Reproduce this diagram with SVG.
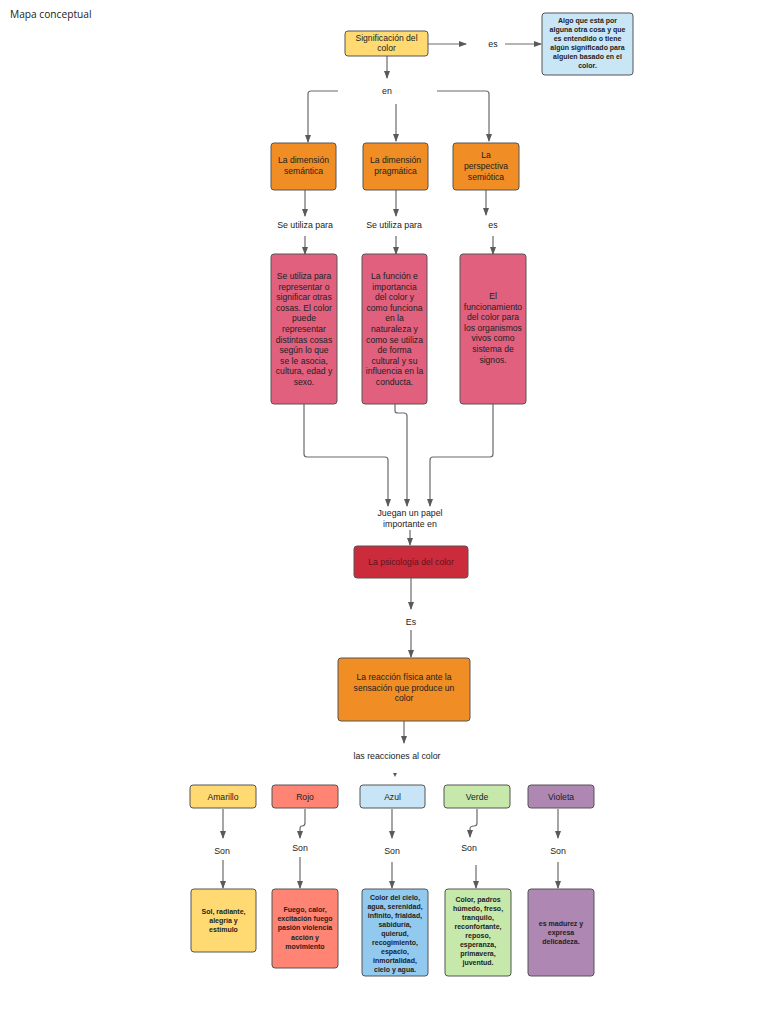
<svg xmlns="http://www.w3.org/2000/svg" width="768" height="1024" viewBox="0 0 768 1024">
<defs>
<marker id="ah" markerWidth="8" markerHeight="8" refX="7" refY="4" orient="auto" markerUnits="userSpaceOnUse">
<path d="M0,1 L8,4 L0,7 Z" fill="#5a5a5a"/>
</marker>
<style>
.box{stroke:#555;stroke-width:1;}
.c{fill:none;stroke:#6a6a6a;stroke-width:1.2;marker-end:url(#ah);}
.l{fill:none;stroke:#6a6a6a;stroke-width:1.2;}
text{font-family:"Liberation Sans",Arial,sans-serif;fill:#222;text-anchor:middle;}
.t{font-size:8.6px;}
.s{font-size:7px;font-weight:bold;}
.lab{font-size:8.8px;}
</style>
</defs>
<rect width="768" height="1024" fill="#fff"/>
<text x="10" y="18" style="text-anchor:start;font-size:10.2px;font-family:'Open Sans','Liberation Sans',sans-serif">Mapa conceptual</text>

<g id="connectors">
<path class="c" d="M428,44 H466"/>
<path class="c" d="M505,44 H541"/>
<path class="c" d="M387,56 V78"/>
<path class="c" d="M338,91 H311 Q308,91 308,94 V142"/>
<path class="c" d="M396,104 V141"/>
<path class="c" d="M437,91 H486 Q489,91 489,94 V141"/>
<path class="c" d="M305,190 V216"/>
<path class="c" d="M396,190 V216"/>
<path class="c" d="M486,190 V215"/>
<path class="c" d="M305,236 V254"/>
<path class="c" d="M396,236 V254"/>
<path class="c" d="M493,236 V254"/>
<path class="c" d="M304,404 V454 Q304,457 307,457 H385 Q388,457 388,460 V506"/>
<path class="c" d="M395,404 V411 Q395,413 398,413 H404 Q407,413 407,416 V506"/>
<path class="c" d="M493,404 V454 Q493,457 490,457 H433 Q430,457 430,460 V506"/>
<path class="c" d="M410,530 V545"/>
<path class="c" d="M411,578 V609"/>
<path class="c" d="M411,630 V657"/>
<path class="c" d="M404,721 V743"/>
<path d="M393,773 L397,773 L395,777 Z" fill="#5a5a5a"/>
<path class="c" d="M223,809 V838"/>
<path class="c" d="M305,809 V823 Q305,826 302,826 Q300,826 300,829 V838"/>
<path class="c" d="M392,809 V838"/>
<path class="c" d="M477,809 V823 Q477,826 474,826 Q470,826 470,829 V837"/>
<path class="c" d="M558,809 V838"/>
<path class="c" d="M223,860 V888"/>
<path class="c" d="M300,857 V888"/>
<path class="c" d="M392,862 V888"/>
<path class="c" d="M476,865 V888"/>
<path class="c" d="M558,862 V888"/>
</g>

<g id="labels">
<text class="lab" x="493" y="47">es</text>
<text class="lab" x="387" y="94">en</text>
<text class="lab" x="305" y="228">Se utiliza para</text>
<text class="lab" x="394" y="228">Se utiliza para</text>
<text class="lab" x="493" y="228">es</text>
<text class="lab" x="410" y="516">Juegan un papel</text>
<text class="lab" x="410" y="527">importante en</text>
<text class="lab" x="411" y="625">Es</text>
<text class="lab" x="397" y="759">las reacciones al color</text>
<text class="lab" x="222" y="854">Son</text>
<text class="lab" x="300" y="851">Son</text>
<text class="lab" x="392" y="854">Son</text>
<text class="lab" x="469" y="851">Son</text>
<text class="lab" x="558" y="854">Son</text>
</g>

<g id="n-significacion">
<rect class="box" x="345" y="31" width="83" height="25" rx="3" fill="#FFDA72"/>
<text class="t" x="386.5" y="41">Significación del</text>
<text class="t" x="386.5" y="51">color</text>
</g>
<g id="n-definicion">
<rect class="box" x="542" y="13" width="91" height="62" rx="3" fill="#C9E6F7"/>
<text class="s" x="587.5" y="23">Algo que está por</text>
<text class="s" x="587.5" y="32">alguna otra cosa y que</text>
<text class="s" x="587.5" y="41">es entendido o tiene</text>
<text class="s" x="587.5" y="50">algún significado para</text>
<text class="s" x="587.5" y="59">alguien basado en el</text>
<text class="s" x="587.5" y="68">color.</text>
</g>

<g id="n-semantica">
<rect class="box" x="271" y="143" width="65" height="47" rx="3" fill="#F08D24"/>
<text class="t" x="303.5" y="163">La dimensión</text>
<text class="t" x="303.5" y="174">semántica</text>
</g>
<g id="n-pragmatica">
<rect class="box" x="363" y="143" width="65" height="47" rx="3" fill="#F08D24"/>
<text class="t" x="395.5" y="163">La dimensión</text>
<text class="t" x="395.5" y="174">pragmática</text>
</g>
<g id="n-semiotica">
<rect class="box" x="453" y="143" width="66" height="47" rx="3" fill="#F08D24"/>
<text class="t" x="486" y="158">La</text>
<text class="t" x="486" y="169">perspectiva</text>
<text class="t" x="486" y="180">semiótica</text>
</g>

<g id="n-uso1">
<rect class="box" x="271" y="254" width="66" height="150" rx="3" fill="#E0607E"/>
<text class="t" x="304" y="279">Se utiliza para</text>
<text class="t" x="304" y="289.6">representar o</text>
<text class="t" x="304" y="300.2">significar otras</text>
<text class="t" x="304" y="310.8">cosas. El color</text>
<text class="t" x="304" y="321.4">puede</text>
<text class="t" x="304" y="332">representar</text>
<text class="t" x="304" y="342.6">distintas cosas</text>
<text class="t" x="304" y="353.2">según lo que</text>
<text class="t" x="304" y="363.8">se le asocia,</text>
<text class="t" x="304" y="374.4">cultura, edad y</text>
<text class="t" x="304" y="385">sexo.</text>
</g>
<g id="n-uso2">
<rect class="box" x="362" y="254" width="65" height="150" rx="3" fill="#E0607E"/>
<text class="t" x="394.5" y="279">La función e</text>
<text class="t" x="394.5" y="289.6">importancia</text>
<text class="t" x="394.5" y="300.2">del color y</text>
<text class="t" x="394.5" y="310.8">como funciona</text>
<text class="t" x="394.5" y="321.4">en la</text>
<text class="t" x="394.5" y="332">naturaleza y</text>
<text class="t" x="394.5" y="342.6">como se utiliza</text>
<text class="t" x="394.5" y="353.2">de forma</text>
<text class="t" x="394.5" y="363.8">cultural y su</text>
<text class="t" x="394.5" y="374.4">influencia en la</text>
<text class="t" x="394.5" y="385">conducta.</text>
</g>
<g id="n-uso3">
<rect class="box" x="460" y="254" width="66" height="150" rx="3" fill="#E0607E"/>
<text class="t" x="493" y="299">El</text>
<text class="t" x="493" y="309.6">funcionamiento</text>
<text class="t" x="493" y="320.2">del color para</text>
<text class="t" x="493" y="330.8">los organismos</text>
<text class="t" x="493" y="341.4">vivos como</text>
<text class="t" x="493" y="352">sistema de</text>
<text class="t" x="493" y="362.6">signos.</text>
</g>

<g id="n-psicologia">
<rect class="box" x="354" y="546" width="114" height="32" rx="3" fill="#CC2B3C"/>
<text class="t" x="411" y="565" style="fill:#5e1420">La psicología del color</text>
</g>
<g id="n-reaccion">
<rect class="box" x="338" y="658" width="132" height="63" rx="3" fill="#F08D24"/>
<text class="t" x="404" y="680">La reacción física ante la</text>
<text class="t" x="404" y="690.5">sensación que produce un</text>
<text class="t" x="404" y="701">color</text>
</g>

<g id="n-amarillo">
<rect class="box" x="190" y="785" width="66" height="23" rx="3" fill="#FFDA72"/>
<text class="t" x="223" y="800">Amarillo</text>
</g>
<g id="n-rojo">
<rect class="box" x="272" y="785" width="66" height="23" rx="3" fill="#FF8473"/>
<text class="t" x="305" y="800">Rojo</text>
</g>
<g id="n-azul">
<rect class="box" x="360" y="785" width="65" height="23" rx="3" fill="#C7E5F7"/>
<text class="t" x="392.5" y="800">Azul</text>
</g>
<g id="n-verde">
<rect class="box" x="444" y="785" width="66" height="23" rx="3" fill="#C6E8AA"/>
<text class="t" x="477" y="800">Verde</text>
</g>
<g id="n-violeta">
<rect class="box" x="528" y="785" width="66" height="23" rx="3" fill="#AE87B3"/>
<text class="t" x="561" y="800">Violeta</text>
</g>

<g id="n-amarillo-d">
<rect class="box" x="191" y="889" width="65" height="63" rx="3" fill="#FFDA72"/>
<text class="s" x="223.5" y="914">Sol, radiante,</text>
<text class="s" x="223.5" y="923">alegría y</text>
<text class="s" x="223.5" y="932">estímulo</text>
</g>
<g id="n-rojo-d">
<rect class="box" x="272" y="889" width="66" height="79" rx="3" fill="#FF8473"/>
<text class="s" x="305" y="912">Fuego, calor,</text>
<text class="s" x="305" y="921.2">excitación fuego</text>
<text class="s" x="305" y="930.4">pasión violencia</text>
<text class="s" x="305" y="939.6">acción y</text>
<text class="s" x="305" y="948.8">movimiento</text>
</g>
<g id="n-azul-d">
<rect class="box" x="362" y="889" width="66" height="87" rx="3" fill="#92C9EF"/>
<text class="s" x="395" y="900">Color del cielo,</text>
<text class="s" x="395" y="909">agua, serenidad,</text>
<text class="s" x="395" y="918">infinito, frialdad,</text>
<text class="s" x="395" y="927">sabiduría,</text>
<text class="s" x="395" y="936">quierud,</text>
<text class="s" x="395" y="945">recogimiento,</text>
<text class="s" x="395" y="954">espacio,</text>
<text class="s" x="395" y="963">inmortalidad,</text>
<text class="s" x="395" y="972">cielo y agua.</text>
</g>
<g id="n-verde-d">
<rect class="box" x="445" y="889" width="66" height="87" rx="3" fill="#C6E8AA"/>
<text class="s" x="478" y="902">Color, padros</text>
<text class="s" x="478" y="911">húmedo, freso,</text>
<text class="s" x="478" y="920">tranquilo,</text>
<text class="s" x="478" y="929">reconfortante,</text>
<text class="s" x="478" y="938">reposo,</text>
<text class="s" x="478" y="947">esperanza,</text>
<text class="s" x="478" y="956">primavera,</text>
<text class="s" x="478" y="965">juventud.</text>
</g>
<g id="n-violeta-d">
<rect class="box" x="528" y="889" width="66" height="87" rx="3" fill="#AE87B3"/>
<text class="s" x="561" y="926">es madurez y</text>
<text class="s" x="561" y="935">expresa</text>
<text class="s" x="561" y="944">delicadeza.</text>
</g>
</svg>
